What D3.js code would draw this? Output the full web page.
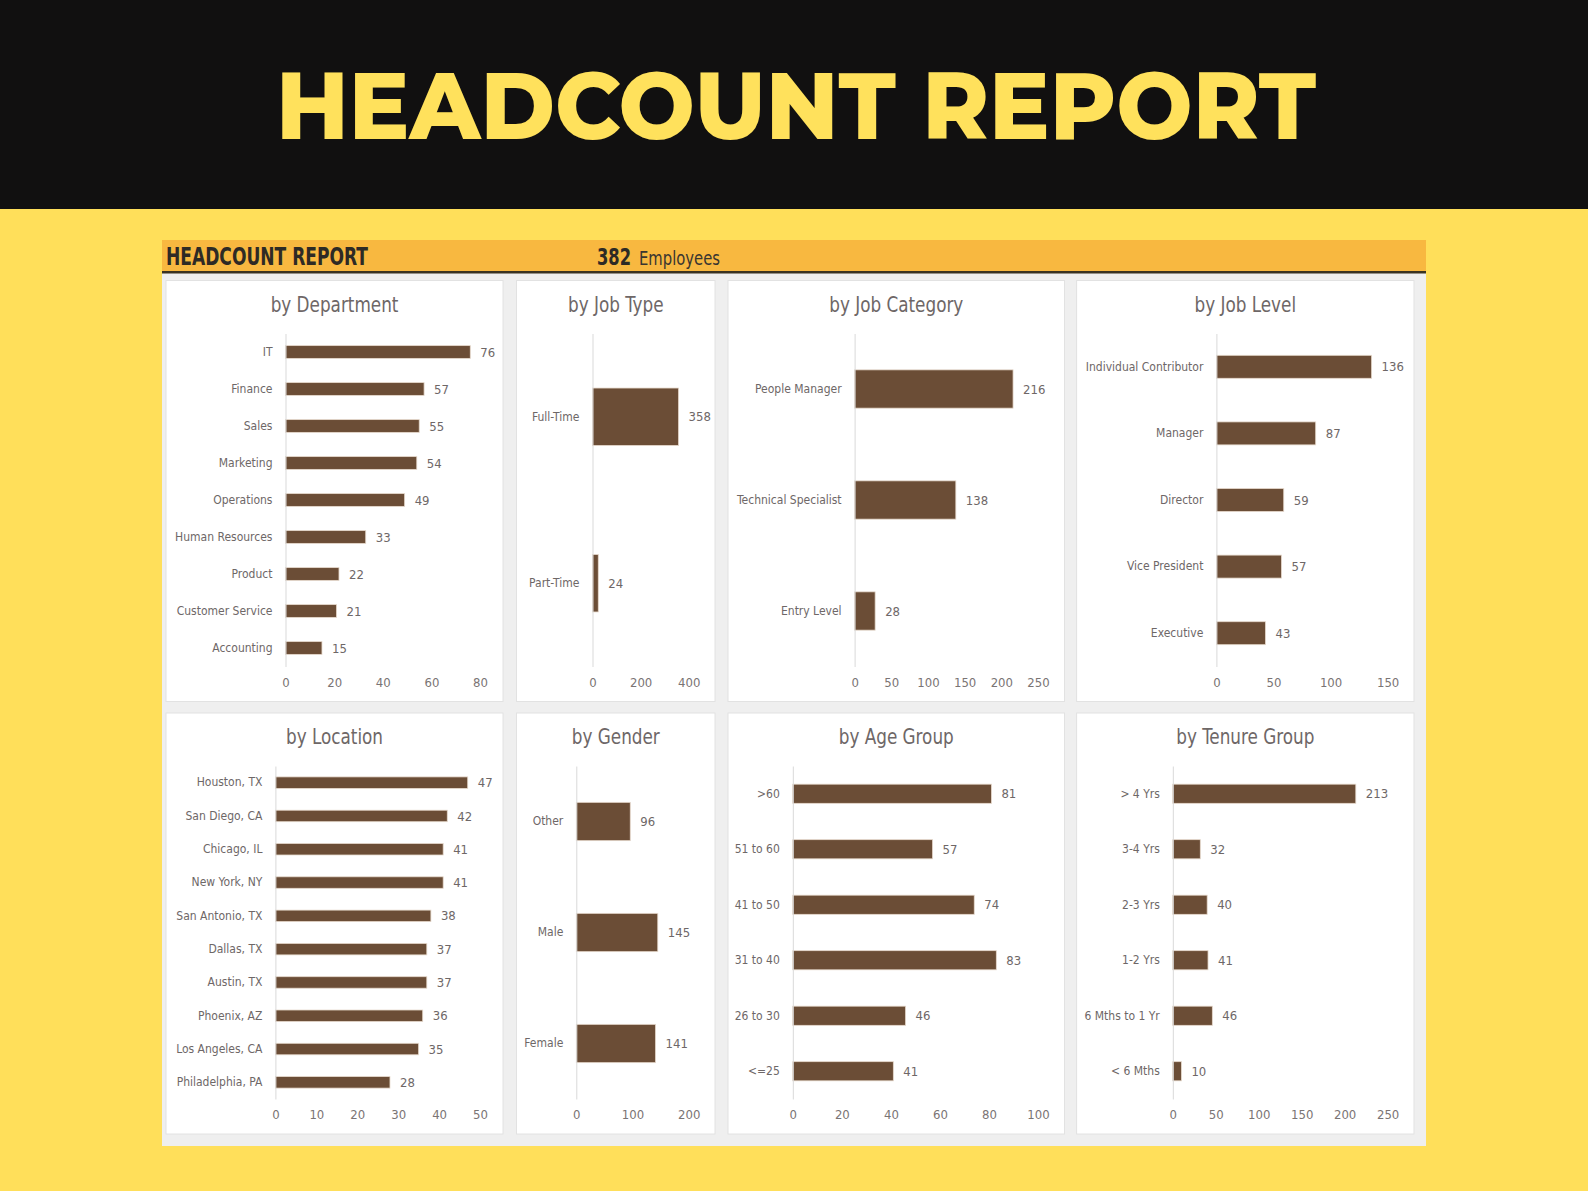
<!DOCTYPE html>
<html>
<head>
<meta charset="utf-8">
<script src="https://cdn.jsdelivr.net/npm/d3@7"></script>
<style>
  body { margin: 0; background: #FFDF5A; }
  svg { display: block; }
  .lbl { font-family: "Liberation Sans Narrow", "DejaVu Sans Condensed", "Arial Narrow", sans-serif; }
</style>
</head>
<body>
<svg id="chart" width="1588" height="1191"></svg>
<script>
// headcount by each breakdown (total 382)
var deptNames = ["IT", "Finance", "Sales", "Marketing", "Operations", "Human Resources", "Product", "Customer Service", "Accounting"]
var deptCounts = [76, 57, 55, 54, 49, 33, 22, 21, 15]
var deptTicks = [0, 20, 40, 60, 80]

var jobTypeNames = ["Full-Time", "Part-Time"]
var jobTypeCounts = [358, 24]
var jobTypeTicks = [0, 200, 400]

var jobCatNames = ["People Manager", "Technical Specialist", "Entry Level"]
var jobCatCounts = [216, 138, 28]
var jobCatTicks = [0, 50, 100, 150, 200, 250]

var jobLevelNames = ["Individual Contributor", "Manager", "Director", "Vice President", "Executive"]
var jobLevelCounts = [136, 87, 59, 57, 43]
var jobLevelTicks = [0, 50, 100, 150]

var locationNames = ["Houston, TX", "San Diego, CA", "Chicago, IL", "New York, NY", "San Antonio, TX", "Dallas, TX", "Austin, TX", "Phoenix, AZ", "Los Angeles, CA", "Philadelphia, PA"]
var locationCounts = [47, 42, 41, 41, 38, 37, 37, 36, 35, 28]
var locationTicks = [0, 10, 20, 30, 40, 50]

var genderNames = ["Other", "Male", "Female"]
var genderCounts = [96, 145, 141]
var genderTicks = [0, 100, 200]

var ageNames = [">60", "51 to 60", "41 to 50", "31 to 40", "26 to 30", "<=25"]
var ageCounts = [81, 57, 74, 83, 46, 41]
var ageTicks = [0, 20, 40, 60, 80, 100]

var tenureNames = ["> 4 Yrs", "3-4 Yrs", "2-3 Yrs", "1-2 Yrs", "6 Mths to 1 Yr", "< 6 Mths"]
var tenureCounts = [213, 32, 40, 41, 46, 10]
var tenureTicks = [0, 50, 100, 150, 200, 250]

var barColor = "#6B4D36"
var textColor = "#6E6767"

var svg = d3.select("#chart")

// page background
svg.append("rect").attr("width", 1588).attr("height", 1191).attr("fill", "#FFDF5A")
svg.append("rect").attr("width", 1588).attr("height", 209).attr("fill", "#111010")
svg.append("text")
    .attr("x", 796).attr("y", 139)
    .attr("text-anchor", "middle")
    .attr("font-family", "Montserrat, 'Open Sans', sans-serif")
    .attr("font-weight", 800)
    .attr("font-size", 95)
    .attr("textLength", 1040)
    .attr("lengthAdjust", "spacingAndGlyphs")
    .attr("fill", "#FFE15C")
    .text("HEADCOUNT REPORT")

// dashboard frame
svg.append("rect").attr("x", 162).attr("y", 240).attr("width", 1264).attr("height", 906).attr("fill", "#EFEFEF")
svg.append("rect").attr("x", 162).attr("y", 240).attr("width", 1264).attr("height", 31).attr("fill", "#F8B840")
svg.append("rect").attr("x", 162).attr("y", 271).attr("width", 1264).attr("height", 2.5).attr("fill", "#3A3322")

svg.append("text").attr("class", "lbl")
    .attr("x", 166).attr("y", 265)
    .attr("font-weight", "bold").attr("font-size", 25)
    .attr("textLength", 202).attr("lengthAdjust", "spacingAndGlyphs")
    .attr("fill", "#2E2A25")
    .text("HEADCOUNT REPORT")

var total = d3.sum(deptCounts)
svg.append("text").attr("class", "lbl")
    .attr("x", 597).attr("y", 264.5)
    .attr("font-weight", "bold").attr("font-size", 23)
    .attr("textLength", 34).attr("lengthAdjust", "spacingAndGlyphs")
    .attr("fill", "#2E2A25")
    .text(total)
svg.append("text").attr("class", "lbl")
    .attr("x", 639).attr("y", 264.5)
    .attr("font-size", 19)
    .attr("textLength", 81).attr("lengthAdjust", "spacingAndGlyphs")
    .attr("fill", "#3A3530")
    .text("Employees")

// card layout
var cols = [[166, 337], [516.5, 198.5], [728, 336.5], [1076.6, 337.4]]
var rows = [280.5, 713]
var cardH = 421

var charts = [
    {title: "by Department", names: deptNames, values: deptCounts, ticks: deptTicks, col: 0, row: 0, left: 119.5, right: 23},
    {title: "by Job Type", names: jobTypeNames, values: jobTypeCounts, ticks: jobTypeTicks, col: 1, row: 0, left: 76, right: 26.3},
    {title: "by Job Category", names: jobCatNames, values: jobCatCounts, ticks: jobCatTicks, col: 2, row: 0, left: 126.6, right: 26.5},
    {title: "by Job Level", names: jobLevelNames, values: jobLevelCounts, ticks: jobLevelTicks, col: 3, row: 0, left: 139.8, right: 26.4},
    {title: "by Location", names: locationNames, values: locationCounts, ticks: locationTicks, col: 0, row: 1, left: 109.4, right: 23},
    {title: "by Gender", names: genderNames, values: genderCounts, ticks: genderTicks, col: 1, row: 1, left: 59.8, right: 26.3},
    {title: "by Age Group", names: ageNames, values: ageCounts, ticks: ageTicks, col: 2, row: 1, left: 64.8, right: 26.5},
    {title: "by Tenure Group", names: tenureNames, values: tenureCounts, ticks: tenureTicks, col: 3, row: 1, left: 96.2, right: 26.4}
]

charts.forEach(function(c) {
    var cx = cols[c.col][0], cw = cols[c.col][1], cy = rows[c.row]
    var card = svg.append("g").attr("transform", "translate(" + cx + "," + cy + ")")
    card.append("rect")
        .attr("width", cw).attr("height", cardH)
        .attr("fill", "#FFFFFF").attr("stroke", "#E2E2E2").attr("stroke-width", 1)
    // condensed look for the card titles
    card.append("text").attr("class", "lbl")
        .attr("transform", "translate(" + (cw / 2) + ",31) scale(0.87,1)")
        .attr("text-anchor", "middle")
        .attr("font-size", 21.5).attr("fill", textColor)
        .text(c.title)

    var plotTop = 53, plotBottom = 386
    var data = c.names.map(function(n, i) { return [n, c.values[i]] })

    var x = d3.scaleLinear().domain([0, d3.max(c.ticks)]).range([c.left, cw - c.right])
    var y = d3.scaleBand().domain(c.names).range([plotTop, plotBottom]).paddingInner(0.655).paddingOuter(0.3275)

    var xAxis = d3.axisBottom(x).tickValues(c.ticks).tickSize(0).tickPadding(11)
    var gx = card.append("g").attr("transform", "translate(0," + plotBottom + ")").call(xAxis)
    gx.select(".domain").remove()
    gx.selectAll("text").attr("class", "lbl").attr("font-size", 13).attr("fill", "#7A7474")

    card.selectAll(".bar")
        .data(data)
        .enter().append("rect")
        .attr("class", "bar")
        .attr("x", x(0))
        .attr("y", d => y(d[0]))
        .attr("width", d => x(d[1]) - x(0))
        .attr("height", y.bandwidth())
        .attr("fill", barColor)
        .attr("stroke", "#E6D9CC").attr("stroke-width", 0.8)

    var yAxis = d3.axisLeft(y).tickSize(0).tickPadding(13)
    var gy = card.append("g").attr("transform", "translate(" + x(0) + ",0)").call(yAxis)
    gy.select(".domain").attr("stroke", "#D9D9D9")
    gy.selectAll("text").attr("class", "lbl").attr("font-size", 12).attr("fill", textColor)

    card.selectAll(".val")
        .data(data)
        .enter().append("text")
        .attr("class", "lbl val")
        .attr("x", d => x(d[1]) + 10)
        .attr("y", d => y(d[0]) + y.bandwidth() / 2)
        .attr("dy", "0.35em")
        .attr("font-size", 13).attr("fill", textColor)
        .text(d => d[1])
})
</script>
</body>
</html>
